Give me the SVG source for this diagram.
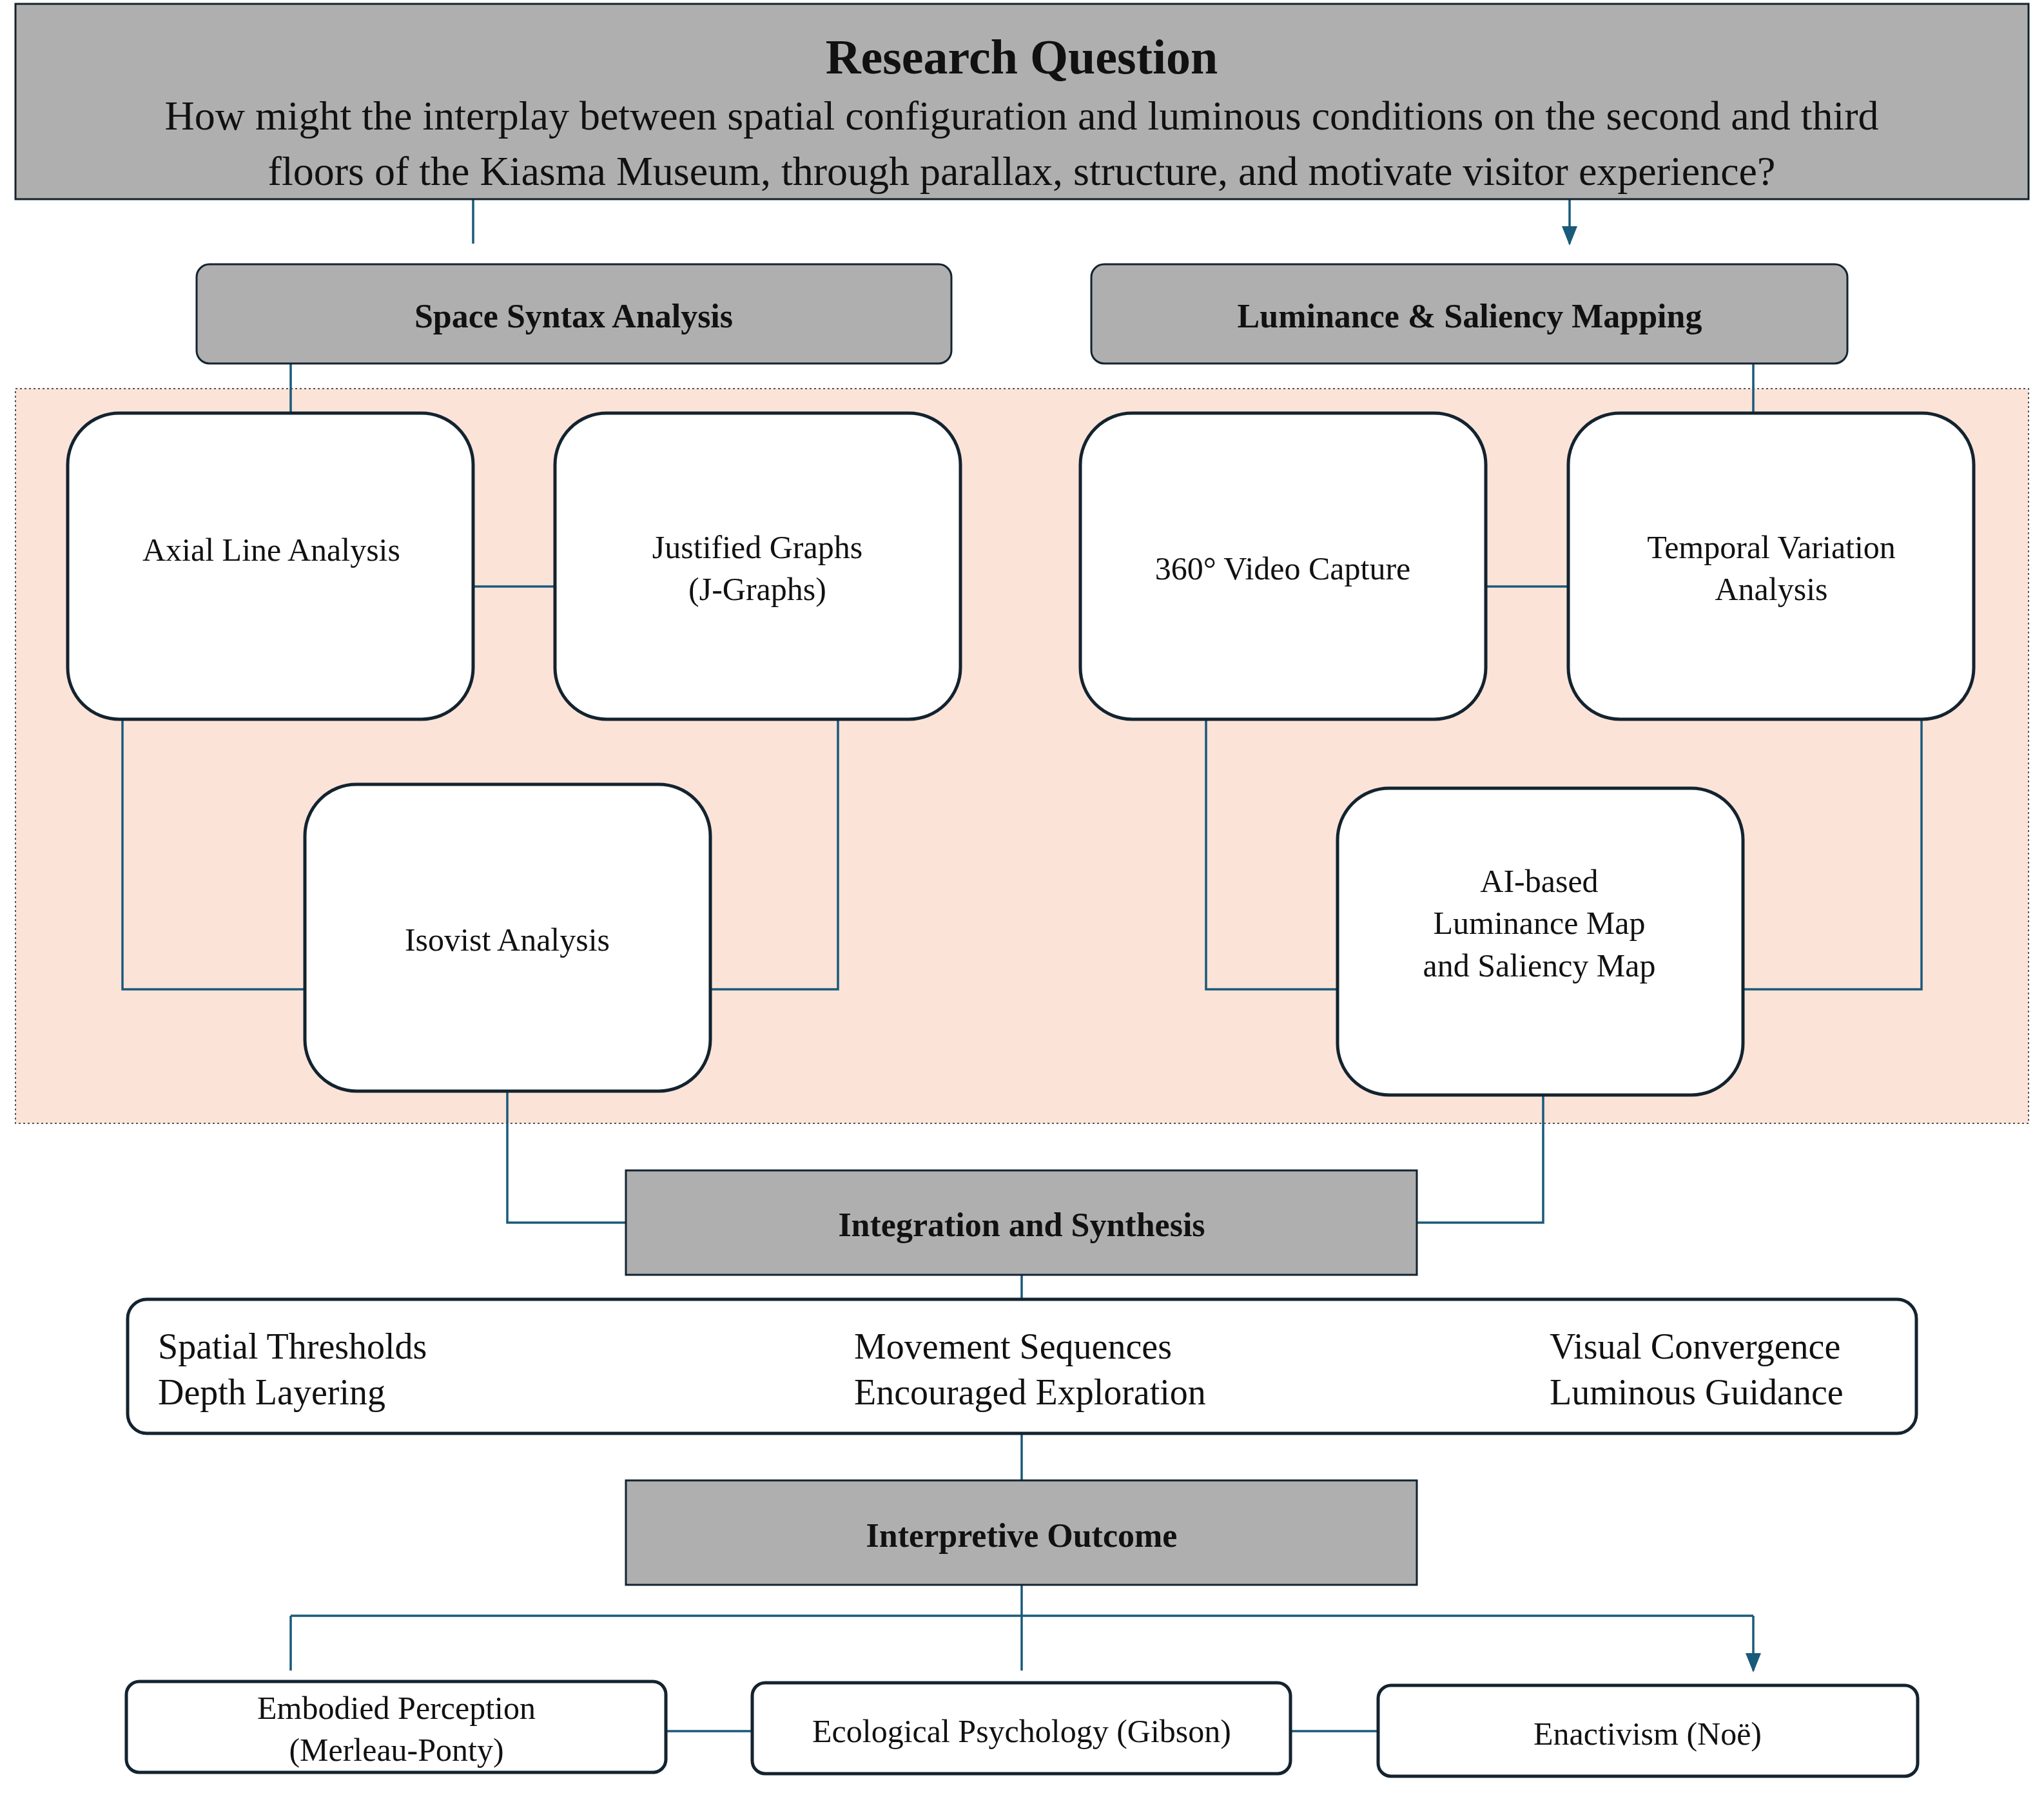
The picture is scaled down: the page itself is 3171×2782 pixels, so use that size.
<svg xmlns="http://www.w3.org/2000/svg" width="3171" height="2782" viewBox="0 0 3171 2782">
<defs>
<marker id="ah" viewBox="0 0 10 10" refX="9" refY="5" markerWidth="8" markerHeight="8" markerUnits="userSpaceOnUse" orient="auto"><path d="M0,0 L10,5 L0,10 z" fill="#1a5a7a"/></marker>
<marker id="a" viewBox="0 0 10 10" refX="9" refY="5" markerWidth="30" markerHeight="30" markerUnits="userSpaceOnUse" orient="auto"><path d="M0,1 L10,5 L0,9 z" fill="#1a5a7a"/></marker>
</defs>
<style>
text{font-family:"Liberation Serif","Times New Roman",serif;fill:#111;text-anchor:middle}
.g{fill:#afafaf;stroke:#13232f;stroke-width:3}
.w{fill:#fff;stroke:#13232f;stroke-width:5}
.c{fill:none;stroke:#1a5a7a;stroke-width:3.5}
.b{font-weight:bold;font-size:52px}
.n{font-size:50px}
.o{font-size:56px;text-anchor:start}
</style>
<rect width="3171" height="2782" fill="#fff"/>
<rect x="24" y="603" width="3123" height="1140" fill="#fbe3d8" stroke="#555" stroke-width="2" stroke-dasharray="3,4"/>
<g id="connectors">
<path class="c" d="M734,309V378 M2435,309V378" marker-end="url(#a)"/>
<path class="c" d="M451,564V641 M2720,564V641 M734,910H861 M2305,910H2433 M190,1116V1535H473 M1300,1116V1535H1102 M1871,1116V1535H2075 M2981,1116V1535H2704 M787,1693V1897H971 M2394,1699V1897H2198 M1585,1978V2016 M1585,2224V2297 M1585,2459V2507 M451,2507H2720 M1033,2686H1167 M2002,2686H2138"/>
<path class="c" d="M451,2507V2592 M1585,2507V2592 M2720,2507V2592" marker-end="url(#a)"/>
</g>
<g id="rq"><rect class="g" x="24" y="6" width="3123" height="303"/>
<text x="1585" y="114" style="font-weight:bold;font-size:76px">Research Question</text>
<text x="1585" y="201" style="font-size:64px">How might the interplay between spatial configuration and luminous conditions on the second and third</text>
<text x="1585" y="287" style="font-size:64px">floors of the Kiasma Museum, through parallax, structure, and motivate visitor experience?</text></g>
<g id="ssa"><rect class="g" x="305" y="410" width="1171" height="154" rx="20"/><text class="b" x="890" y="508">Space Syntax Analysis</text></g>
<g id="lsm"><rect class="g" x="1693" y="410" width="1173" height="154" rx="20"/><text class="b" x="2280" y="508">Luminance &amp; Saliency Mapping</text></g>
<g id="axial"><rect class="w" x="105" y="641" width="629" height="475" rx="80"/><text class="n" x="421" y="870">Axial Line Analysis</text></g>
<g id="jg"><rect class="w" x="861" y="641" width="629" height="475" rx="80"/><text class="n" x="1175" y="866">Justified Graphs</text><text class="n" x="1175" y="931">(J-Graphs)</text></g>
<g id="iso"><rect class="w" x="473" y="1217" width="629" height="476" rx="80"/><text class="n" x="787" y="1475">Isovist Analysis</text></g>
<g id="v360"><rect class="w" x="1676" y="641" width="629" height="475" rx="80"/><text class="n" x="1990" y="899">360° Video Capture</text></g>
<g id="tva"><rect class="w" x="2433" y="641" width="629" height="475" rx="80"/><text class="n" x="2748" y="866">Temporal Variation</text><text class="n" x="2748" y="931">Analysis</text></g>
<g id="ai"><rect class="w" x="2075" y="1223" width="629" height="476" rx="80"/><text class="n" x="2388" y="1384">AI-based</text><text class="n" x="2388" y="1449">Luminance Map</text><text class="n" x="2388" y="1515">and Saliency Map</text></g>
<g id="integ"><rect class="g" x="971" y="1816" width="1227" height="162"/><text class="b" x="1585" y="1918">Integration and Synthesis</text></g>
<g id="outs"><rect class="w" x="198" y="2016" width="2775" height="208" rx="30"/>
<text class="o" x="245" y="2108">Spatial Thresholds</text><text class="o" x="245" y="2179">Depth Layering</text>
<text class="o" x="1325" y="2108">Movement Sequences</text><text class="o" x="1325" y="2179">Encouraged Exploration</text>
<text class="o" x="2404" y="2108">Visual Convergence</text><text class="o" x="2404" y="2179">Luminous Guidance</text></g>
<g id="interp"><rect class="g" x="971" y="2297" width="1227" height="162"/><text class="b" x="1585" y="2400">Interpretive Outcome</text></g>
<g id="emb"><rect class="w" x="196" y="2609" width="837" height="141" rx="20"/><text class="n" x="615" y="2667">Embodied Perception</text><text class="n" x="615" y="2732">(Merleau-Ponty)</text></g>
<g id="eco"><rect class="w" x="1167" y="2611" width="835" height="141" rx="20"/><text class="n" x="1585" y="2703">Ecological Psychology (Gibson)</text></g>
<g id="ena"><rect class="w" x="2138" y="2615" width="837" height="141" rx="20"/><text class="n" x="2556" y="2707">Enactivism (Noë)</text></g>
</svg>
